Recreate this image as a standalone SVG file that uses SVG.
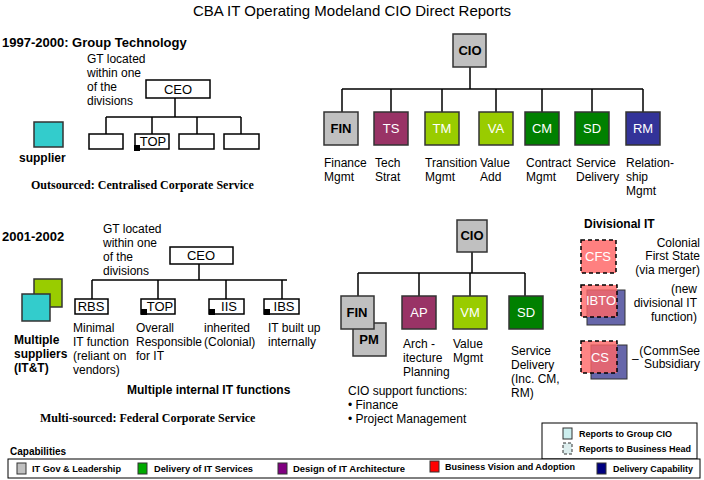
<svg xmlns="http://www.w3.org/2000/svg" width="704" height="480" viewBox="0 0 704 480">
<style>
text{font-family:"Liberation Sans",Arial,sans-serif;font-size:12px;fill:#000}
.b{font-weight:bold}
.s{font-family:"Liberation Serif","Times New Roman",serif;font-weight:bold;font-size:12px}
.w{fill:#fff;font-size:13px}
.c{text-anchor:middle}
.r{text-anchor:end}
.ln{stroke:#000;stroke-width:1.5;fill:none}
.wb{fill:#fff;stroke:#000;stroke-width:1.5}
.sq{stroke:#333;stroke-width:1.5}
.dash{stroke:#000;stroke-width:1.5;stroke-dasharray:4,3}
.lg{font-size:9px;font-weight:bold}
</style>
<text x="352" y="16" class="c" style="font-size:15px">CBA IT Operating Modeland CIO Direct Reports</text>

<g id="connectors">
<path class="ln" d="M175 98V117M106 117H241M106 117V134M152 117V134M197 117V134M241 117V134"/>
<path class="ln" d="M470 67V89M342 89H643M342 89V112M391 89V112M442 89V112M496 89V112M542 89V112M592 89V112M643 89V112"/>
<path class="ln" d="M199 264V280M92 280H287M92 280V299M158 280V299M226 280V299M282 280V299"/>
<path class="ln" d="M472 252V273M358 273H525M358 273V296M419 273V296M470 273V296M525 273V296"/>
</g>

<g id="p1">
<text x="2" y="47" class="b" style="font-size:13px">1997-2000: Group Technology</text>
<text x="87" y="63">GT located</text><text x="87" y="77">within one</text><text x="87" y="91">of the</text><text x="87" y="105">divisions</text>
<g id="ceo1"><rect x="146" y="80" width="64" height="18" class="wb"/><text x="178" y="94" class="c" style="font-size:13px">CEO</text></g>
<rect x="89" y="134" width="34" height="15" class="wb"/>
<g id="top1"><rect x="135" y="134" width="34" height="15" class="wb"/><text x="153" y="146" class="c" style="font-size:13px">TOP</text><rect x="134" y="145" width="6" height="6" fill="#000"/></g>
<rect x="179" y="134" width="35" height="15" class="wb"/>
<rect x="224" y="134" width="35" height="15" class="wb"/>
<g id="supplier1"><rect x="34" y="122" width="29" height="25" fill="#33cccc" class="sq"/><text x="19" y="162" class="b">supplier</text></g>
<text x="31" y="189" class="s">Outsourced: Centralised Corporate Service</text>
</g>

<g id="cio1"><rect x="453" y="34" width="33" height="33" fill="#c0c0c0" class="sq"/><text x="470" y="55" class="c b" style="font-size:13px">CIO</text></g>
<g id="fin1"><rect x="324" y="112" width="34" height="33" fill="#c0c0c0" class="sq"/><text x="341" y="133" class="c b" style="font-size:13px">FIN</text><text x="324" y="167">Finance</text><text x="324" y="181">Mgmt</text></g>
<g id="ts1"><rect x="374" y="112" width="34" height="33" fill="#993366" class="sq"/><text x="391" y="133" class="c w">TS</text><text x="375" y="167">Tech</text><text x="375" y="181">Strat</text></g>
<g id="tm1"><rect x="425" y="112" width="34" height="33" fill="#99cc00" class="sq"/><text x="442" y="133" class="c w">TM</text><text x="425" y="167">Transition</text><text x="425" y="181">Mgmt</text></g>
<g id="va1"><rect x="479" y="112" width="34" height="33" fill="#99cc00" class="sq"/><text x="496" y="133" class="c w">VA</text><text x="480" y="167">Value</text><text x="480" y="181">Add</text></g>
<g id="cm1"><rect x="525" y="112" width="34" height="33" fill="#008000" class="sq"/><text x="542" y="133" class="c w">CM</text><text x="526" y="167">Contract</text><text x="526" y="181">Mgmt</text></g>
<g id="sd1"><rect x="575" y="112" width="34" height="33" fill="#008000" class="sq"/><text x="592" y="133" class="c w">SD</text><text x="576" y="167">Service</text><text x="576" y="181">Delivery</text></g>
<g id="rm1"><rect x="626" y="112" width="34" height="33" fill="#333399" class="sq"/><text x="643" y="133" class="c w">RM</text><text x="626" y="167">Relation-</text><text x="626" y="181">ship</text><text x="626" y="195">Mgmt</text></g>

<g id="p2">
<text x="2" y="241" class="b" style="font-size:13px">2001-2002</text>
<text x="103" y="233">GT located</text><text x="103" y="247">within one</text><text x="103" y="261">of the</text><text x="103" y="275">divisions</text>
<g id="ceo2"><rect x="170" y="247" width="63" height="17" class="wb"/><text x="201" y="260" class="c" style="font-size:13px">CEO</text></g>
<g id="rbs"><rect x="75" y="299" width="33" height="15" class="wb"/><text x="91" y="311" class="c" style="font-size:13px">RBS</text><text x="73" y="332">Minimal</text><text x="73" y="346">IT function</text><text x="73" y="360">(reliant on</text><text x="73" y="374">vendors)</text></g>
<g id="top2"><rect x="141" y="299" width="34" height="15" class="wb"/><text x="160" y="311" class="c" style="font-size:13px">TOP</text><rect x="141" y="309" width="6" height="6" fill="#000"/><text x="136" y="332">Overall</text><text x="136" y="346">Responsible</text><text x="136" y="360">for IT</text></g>
<g id="iis"><rect x="209" y="299" width="35" height="15" class="wb"/><text x="229" y="311" class="c" style="font-size:13px">IIS</text><rect x="209" y="309" width="6" height="6" fill="#000"/><text x="204" y="332">inherited</text><text x="204" y="346">(Colonial)</text></g>
<g id="ibs"><rect x="264" y="299" width="35" height="15" class="wb"/><text x="284" y="311" class="c" style="font-size:13px">IBS</text><rect x="264" y="309" width="6" height="6" fill="#000"/><text x="268" y="332">IT built up</text><text x="268" y="346">internally</text></g>
<g id="suppliers2"><rect x="34" y="279" width="28" height="28" fill="#99cc00" class="sq"/><rect x="22" y="294" width="28" height="27" fill="#33cccc" class="sq"/><text x="14" y="344" class="b">Multiple</text><text x="14" y="358" class="b">suppliers</text><text x="14" y="372" class="b">(IT&amp;T)</text></g>
<text x="127" y="394" class="b">Multiple internal IT functions</text>
<text x="40" y="422" class="s">Multi-sourced: Federal Corporate Service</text>
</g>

<g id="cio2"><rect x="457" y="220" width="30" height="32" fill="#c0c0c0" class="sq"/><text x="472" y="240" class="c b" style="font-size:13px">CIO</text></g>
<g id="finpm"><rect x="353" y="323" width="33" height="33" fill="#c0c0c0" class="sq"/><rect x="341" y="296" width="33" height="33" fill="#c0c0c0" class="sq"/><text x="357" y="317" class="c b" style="font-size:13px">FIN</text><text x="369" y="344" class="c b" style="font-size:13px">PM</text></g>
<g id="ap"><rect x="402" y="296" width="34" height="33" fill="#993366" class="sq"/><text x="419" y="317" class="c w">AP</text><text x="403" y="348">Arch -</text><text x="403" y="362">itecture</text><text x="403" y="376">Planning</text></g>
<g id="vm"><rect x="453" y="296" width="34" height="33" fill="#99cc00" class="sq"/><text x="470" y="317" class="c w">VM</text><text x="453" y="348">Value</text><text x="453" y="362">Mgmt</text></g>
<g id="sd2"><rect x="509" y="296" width="34" height="33" fill="#008000" class="sq"/><text x="526" y="317" class="c w">SD</text><text x="511" y="355">Service</text><text x="511" y="369">Delivery</text><text x="511" y="383">(Inc. CM,</text><text x="511" y="397">RM)</text></g>
<text x="348" y="395">CIO support functions:</text><text x="348" y="409">• Finance</text><text x="348" y="423">• Project Management</text>

<g id="divisional">
<text x="584" y="228" class="b">Divisional IT</text>
<g id="cfs"><rect x="581" y="240" width="35" height="33" fill="#ff8080" class="dash"/><text x="598" y="261" class="c w">CFS</text><text x="700" y="247" class="r">Colonial</text><text x="700" y="260" class="r">First State</text><text x="700" y="274" class="r">(via merger)</text></g>
<g id="ibto"><rect x="587" y="290" width="38" height="35" fill="#6666aa" stroke="#333" stroke-width="1"/><rect x="581" y="285" width="36" height="32" fill="#ff6666" fill-opacity="0.8" class="dash"/><text x="601" y="305" class="c w">IBTO</text><text x="697" y="293" class="r">(new</text><text x="697" y="307" class="r">divisional IT</text><text x="697" y="321" class="r">function)</text></g>
<g id="cs"><rect x="591" y="345" width="36" height="34" fill="#6666aa" stroke="#333" stroke-width="1"/><rect x="581" y="341" width="36" height="32" fill="#ff6666" fill-opacity="0.8" class="dash"/><text x="600" y="362" class="c w">CS</text><text x="632" y="363">–</text><text x="700" y="355" class="r">(CommSee</text><text x="700" y="368" class="r">Subsidiary</text></g>
</g>

<g id="legend">
<rect x="542" y="423" width="155" height="36" fill="#fff" stroke="#000" stroke-width="1"/>
<rect x="563" y="428" width="9" height="11" fill="#cceeee" stroke="#333"/><text x="579" y="437" class="lg" textLength="93" lengthAdjust="spacingAndGlyphs">Reports to Group CIO</text>
<rect x="563" y="443" width="9" height="11" fill="#ddeeee" stroke="#333" stroke-dasharray="3,2"/><text x="579" y="452" class="lg" textLength="112" lengthAdjust="spacingAndGlyphs">Reports to Business Head</text>
</g>
<text x="10" y="455" class="b" style="font-size:10px">Capabilities</text>
<g id="capabilities">
<rect x="8" y="459" width="692" height="19" fill="#fff" stroke="#000" stroke-width="1"/>
<rect x="17" y="463" width="9" height="11" fill="#c0c0c0" stroke="#333"/><text x="32" y="472" class="lg" textLength="89" lengthAdjust="spacingAndGlyphs">IT Gov &amp; Leadership</text>
<rect x="138" y="463" width="9" height="11" fill="#00aa00" stroke="#333"/><text x="154" y="472" class="lg" textLength="99" lengthAdjust="spacingAndGlyphs">Delivery of  IT Services</text>
<rect x="278" y="463" width="9" height="11" fill="#800080" stroke="#333"/><text x="293" y="472" class="lg" textLength="112" lengthAdjust="spacingAndGlyphs">Design of  IT Architecture</text>
<rect x="430" y="461" width="9" height="11" fill="#ff0000" stroke="#333"/><text x="445" y="470" class="lg" textLength="130" lengthAdjust="spacingAndGlyphs">Business Vision and Adoption</text>
<rect x="597" y="463" width="9" height="11" fill="#000080" stroke="#333"/><text x="613" y="472" class="lg" textLength="80" lengthAdjust="spacingAndGlyphs">Delivery Capability</text>
</g>
</svg>
